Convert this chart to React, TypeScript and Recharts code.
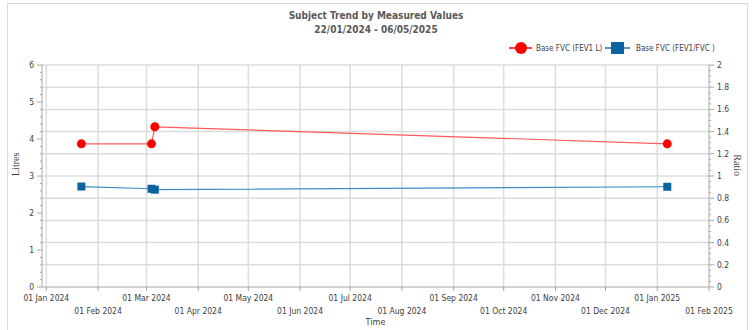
import React from 'react';
import { LineChart, Line, XAxis, YAxis, CartesianGrid, Legend } from 'recharts';

// measurement dates (UTC) and values
const testDates = [
  Date.UTC(2024, 0, 22),
  Date.UTC(2024, 2, 4),
  Date.UTC(2024, 2, 6),
  Date.UTC(2025, 0, 7),
];
const fev1Litres = [3.87, 3.87, 4.33, 3.87];
const fev1FvcRatio = [0.905, 0.885, 0.877, 0.903];

const monthTicks = Array.from({ length: 14 }, (_, i) => Date.UTC(2024, i, 1));
const monthNames = ['Jan', 'Feb', 'Mar', 'Apr', 'May', 'Jun', 'Jul', 'Aug', 'Sep', 'Oct', 'Nov', 'Dec'];
const litreTicks = Array.from({ length: 31 }, (_, i) => Math.round(i * 0.2 * 10) / 10);
const ratioTicks = Array.from({ length: 41 }, (_, i) => Math.round(i * 0.05 * 100) / 100);
const gridRatios = [0.2, 0.4, 0.6, 0.8, 1, 1.2, 1.4, 1.6, 1.8, 2];

const DAY = 24 * 3600 * 1000;
const xDomain = [Date.UTC(2024, 0, 1) - 2.6 * DAY, Date.UTC(2025, 1, 1)];

const data = testDates.map((t, i) => ({ t, fev1: fev1Litres[i], ratio: fev1FvcRatio[i] }));

const FONT = '"DejaVu Sans Condensed", "Liberation Sans Narrow", "DejaVu Sans", sans-serif';
const TEXT = '#404040';
const AXIS = '#a6a6a6';
const PLOT_LEFT = 42;
const PLOT_RIGHT = 709;
const PLOT_BOTTOM = 287;

const LeftTick = (props: any) => {
  const { y, payload } = props;
  const v = payload.value;
  const major = Math.abs(v - Math.round(v)) < 1e-6;
  return (
    <g>
      <line x1={PLOT_LEFT - (major ? 5 : 2)} x2={PLOT_LEFT} y1={y} y2={y} stroke={AXIS} />
      {major && (
        <text x={PLOT_LEFT - 8} y={y} dy={3} textAnchor="end" fontSize={8.5} fontFamily={FONT} fill={TEXT}>
          {v}
        </text>
      )}
    </g>
  );
};

const RightTick = (props: any) => {
  const { y, payload } = props;
  const v = payload.value;
  const major = Math.abs(v * 5 - Math.round(v * 5)) < 1e-6;
  return (
    <g>
      <line x1={PLOT_RIGHT} x2={PLOT_RIGHT + (major ? 5 : 2)} y1={y} y2={y} stroke={AXIS} />
      {major && (
        <text x={PLOT_RIGHT + 8} y={y} dy={3} textAnchor="start" fontSize={8.5} fontFamily={FONT} fill={TEXT}>
          {v}
        </text>
      )}
    </g>
  );
};

const TimeTick = (props: any) => {
  const { x, payload } = props;
  const d = new Date(payload.value);
  const idx = (d.getUTCFullYear() - 2024) * 12 + d.getUTCMonth();
  const label = `01 ${monthNames[d.getUTCMonth()]} ${d.getUTCFullYear()}`;
  const ty = idx % 2 === 0 ? 301 : 314;
  return (
    <g>
      <line x1={x} x2={x} y1={PLOT_BOTTOM} y2={PLOT_BOTTOM + 4} stroke={AXIS} />
      <text x={x} y={ty} textAnchor="middle" fontSize={8.5} fontFamily={FONT} fill={TEXT}>
        {label}
      </text>
    </g>
  );
};

const LegendContent = () => (
  <svg width={230} height={16}>
    <line x1={4} x2={27} y1={8} y2={8} stroke="#ff0000" strokeWidth={1.5} />
    <circle cx={16} cy={8} r={6} fill="#ff0000" />
    <text x={31} y={11} fontSize={8} fontFamily={FONT} fill={TEXT}>Base FVC (FEV1 L)</text>
    <line x1={100} x2={125} y1={8} y2={8} stroke="#1f6fa8" strokeWidth={1.5} />
    <rect x={106} y={2} width={13} height={12} fill="#0b64a0" />
    <text x={131} y={11} fontSize={8} fontFamily={FONT} fill={TEXT}>Base FVC (FEV1/FVC )</text>
  </svg>
);

const RedDot = (props: any) => {
  const { cx, cy } = props;
  if (cx == null || cy == null) return null;
  return <circle cx={cx} cy={cy} r={4.5} fill="#ff0000" />;
};

const BlueSquare = (props: any) => {
  const { cx, cy } = props;
  if (cx == null || cy == null) return null;
  return <rect x={cx - 4} y={cy - 4} width={8} height={8} fill="#0b64a0" />;
};

export default function App() {
  return (
    <div style={{ position: 'absolute', left: 0, top: 0, width: 752, height: 330, overflow: 'hidden', background: '#fff' }}>
      <div style={{ position: 'absolute', left: 7, top: 3, width: 739, height: 340, border: '1px solid #d9d9d9' }} />
      <div
        style={{
          position: 'absolute',
          left: 0,
          top: 9,
          width: 752,
          textAlign: 'center',
          fontFamily: FONT,
          fontWeight: 'bold',
          fontSize: 10,
          lineHeight: '14px',
          color: '#595959',
        }}
      >
        <div>Subject Trend by Measured Values</div>
        <div>22/01/2024 - 06/05/2025</div>
      </div>
      <LineChart width={752} height={330} data={data} margin={{ top: 65, right: 13, bottom: 3, left: 12 }}>
        <CartesianGrid
          xAxisId="time"
          yAxisId="right"
          stroke="#dcdcdc"
          strokeWidth={1.5}
          horizontalValues={gridRatios}
          verticalValues={monthTicks.slice(0, 13)}
        />
        <XAxis
          xAxisId="time"
          dataKey="t"
          type="number"
          scale="time"
          domain={xDomain}
          ticks={monthTicks}
          tick={TimeTick}
          tickLine={false}
          stroke={AXIS}
          height={40}
          interval={0}
          label={{ value: 'Time', position: 'insideBottom', offset: 2, fontSize: 9, fontFamily: FONT, fill: TEXT }}
        />
        <YAxis
          yAxisId="left"
          orientation="left"
          domain={[0, 6]}
          ticks={litreTicks}
          tick={LeftTick}
          tickLine={false}
          stroke={AXIS}
          width={30}
          interval={0}
          label={{ value: 'Litres', angle: -90, position: 'insideLeft', offset: 3, fontSize: 10, fontFamily: 'Liberation Serif, serif', fill: TEXT }}
        />
        <YAxis
          yAxisId="right"
          orientation="right"
          domain={[0, 2]}
          ticks={ratioTicks}
          tick={RightTick}
          tickLine={false}
          stroke={AXIS}
          width={30}
          interval={0}
          label={{ value: 'Ratio', angle: 90, position: 'insideRight', offset: 1, fontSize: 10, fontFamily: 'Liberation Serif, serif', fill: TEXT }}
        />
        <Legend
          layout="horizontal"
          verticalAlign="middle"
          align="center"
          content={LegendContent}
          wrapperStyle={{ top: 40, left: 505, width: 230, height: 16 }}
        />
        <Line
          xAxisId="time"
          yAxisId="left"
          dataKey="fev1"
          stroke="#ff5a5a"
          strokeWidth={1.2}
          dot={RedDot}
          activeDot={false}
          isAnimationActive={false}
        />
        <Line
          xAxisId="time"
          yAxisId="right"
          dataKey="ratio"
          stroke="#3d8ec8"
          strokeWidth={1.2}
          dot={BlueSquare}
          activeDot={false}
          isAnimationActive={false}
        />
      </LineChart>
    </div>
  );
}
